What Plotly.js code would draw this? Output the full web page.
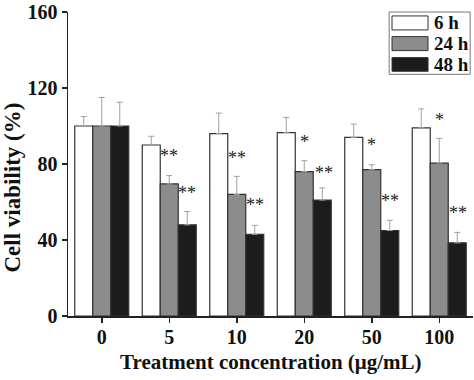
<!DOCTYPE html>
<html>
<head>
<meta charset="utf-8">
<script src="https://cdn.plot.ly/plotly-3.0.1.min.js"></script>
<style>html,body{margin:0;padding:0;background:#fff;}#chart{width:474px;height:380px;}</style>
</head>
<body>
<div id="chart"></div>
<script>
// Data
const categories = ['0', '5', '10', '20', '50', '100'];
const seriesNames = ['6 h', '24 h', '48 h'];
const values6h  = [100, 90, 96, 96.5, 94, 99];
const values24h = [100, 69.5, 64, 76, 77, 80.5];
const values48h = [100, 48, 43, 61, 45, 38.5];
const err6h  = [5, 4.6, 10.8, 8, 7, 10];
const err24h = [15, 4.4, 9.5, 5.7, 2.6, 13];
const err48h = [12.5, 7, 4.7, 6.4, 5.4, 5.5];
// significance marks: [category index, slot offset, y value, text]
const sigMarks = [
  [1, 0.0, 85.9, '**'], [1, 0.27, 66.1, '**'],
  [2, 0.0, 84.9, '**'], [2, 0.27, 59.9, '**'],
  [3, 0.0, 93.2, '*'],  [3, 0.29, 76.6, '**'],
  [4, 0.0, 91.7, '*'],  [4, 0.27, 62.0, '**'],
  [5, 0.0, 104.7, '*'], [5, 0.28, 55.7, '**']
];
const yTicks = [0, 40, 80, 120, 160];
const xTitle = 'Treatment concentration (μg/mL)';
const yTitle = 'Cell viability (%)';

const fills = ['#ffffff', '#8c8c8c', '#1c1c1c'];
const serif = 'Liberation Serif, Times New Roman, serif';

function mkTrace(name, vals, errs, color) {
  return {
    type: 'bar', name: name, x: categories, y: vals,
    marker: {color: color, line: {color: '#333333', width: 1.2}},
    error_y: {type: 'data', symmetric: false, array: errs,
              arrayminus: errs.map(() => 0), color: '#a0a0a0', thickness: 1, width: 3},
    showlegend: false
  };
}
const traces = [
  mkTrace(seriesNames[0], values6h, err6h, fills[0]),
  mkTrace(seriesNames[1], values24h, err24h, fills[1]),
  mkTrace(seriesNames[2], values48h, err48h, fills[2])
];

const annotations = sigMarks.map(m => ({
  x: m[0] + m[1], y: m[2], xref: 'x', yref: 'y', text: m[3], showarrow: false,
  font: {family: serif, size: 18, color: '#1a1a1a'},
  xanchor: 'center', yanchor: 'middle', yshift: -3
}));

// axis titles as annotations for exact placement
annotations.push({x: 0.5, y: -0.150, xref: 'paper', yref: 'paper', text: xTitle,
  showarrow: false, xanchor: 'center', yanchor: 'middle',
  font: {family: serif, size: 21, color: '#111', weight: 'bold'}});
annotations.push({x: -0.138, y: 0.423, xref: 'paper', yref: 'paper', text: yTitle,
  showarrow: false, xanchor: 'center', yanchor: 'middle', textangle: -90,
  font: {family: serif, size: 23, color: '#111', weight: 'bold'}});

// manual legend
const legRows = [
  {y0: 0.941, y1: 0.987, ty: 0.964},
  {y0: 0.873, y1: 0.919, ty: 0.896},
  {y0: 0.805, y1: 0.850, ty: 0.827}
];
const shapes = [{
  type: 'rect', xref: 'paper', yref: 'paper', x0: 0.793, x1: 0.993, y0: 0.795, y1: 1.0,
  line: {color: '#777', width: 1}, fillcolor: 'rgba(0,0,0,0)'
}];
legRows.forEach((r, i) => {
  shapes.push({type: 'rect', xref: 'paper', yref: 'paper', x0: 0.800, x1: 0.889,
    y0: r.y0, y1: r.y1, line: {color: '#333', width: 1}, fillcolor: fills[i]});
  annotations.push({x: 0.899, y: r.ty, xref: 'paper', yref: 'paper', text: seriesNames[i],
    showarrow: false, xanchor: 'left', yanchor: 'middle',
    font: {family: serif, size: 19, color: '#111', weight: 'bold'}});
});

const layout = {
  width: 474, height: 380,
  margin: {l: 68, r: 1, t: 12, b: 64},
  paper_bgcolor: '#fff', plot_bgcolor: '#fff',
  barmode: 'group', bargap: 0.2, bargroupgap: 0,
  xaxis: {
    type: 'category', range: [-0.5, 5.5], showgrid: false, zeroline: false,
    showline: true, linecolor: '#222', linewidth: 1.5,
    ticks: 'outside', ticklen: 5, tickwidth: 1.5, tickcolor: '#222',
    ticklabelstandoff: -3,
    tickfont: {family: serif, size: 20, color: '#111', weight: 'bold'}
  },
  yaxis: {
    range: [0, 160], tickvals: yTicks, showgrid: false, zeroline: false,
    showline: true, linecolor: '#222', linewidth: 1.5,
    ticks: 'outside', ticklen: 5, tickwidth: 1.5, tickcolor: '#222',
    ticklabeloverflow: 'allow',
    tickfont: {family: serif, size: 20, color: '#111', weight: 'bold'}
  },
  annotations: annotations,
  shapes: shapes
};

Plotly.newPlot('chart', traces, layout, {displayModeBar: false, staticPlot: true});
</script>
</body>
</html>
